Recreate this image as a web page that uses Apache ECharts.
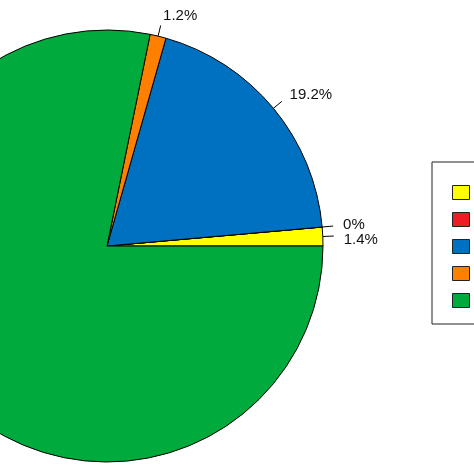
<!DOCTYPE html>
<html>
<head>
<meta charset="utf-8">
<script src="https://cdn.jsdelivr.net/npm/echarts@6/dist/echarts.min.js"></script>
<style>
  html, body { margin: 0; padding: 0; background: #fff; }
  #chart { width: 474px; height: 474px; }
</style>
</head>
<body>
<div id="chart"></div>
<script>
// slice names (legend text falls outside the visible area in the reference)
var categories = ['Group 1', 'Group 2', 'Group 3', 'Group 4', 'Group 5'];
// percentages, counter-clockwise from 3 o'clock
var shares = [1.4, 0, 19.2, 1.2, 78.2];
var colors = ['#FFFF00', '#EE1C25', '#0070C0', '#FF7F00', '#00AA3C'];

var chart = echarts.init(document.getElementById('chart'));

var data = [];
categories.forEach(function (name, i) {
    var item = {
        name: name,
        value: shares[i],
        itemStyle: { color: colors[i] }
    };
    // the big slice's label sits off the left edge in the reference
    if (i == 4) {
        item.label = { show: false };
        item.labelLine = { show: false };
    }
    data.push(item);
});

// push each text a bit further out along its tick, like base R pie()
function radialLabel(params) {
    var pts = params.labelLinePoints;
    if (!pts) return;
    var a = pts[0], b = pts[pts.length - 1];
    var dx = b[0] - a[0], dy = b[1] - a[1];
    var len = Math.sqrt(dx * dx + dy * dy) || 1;
    return {
        x: b[0] + dx / len * 10,
        y: b[1] + dy / len * 10,
        align: dx < 0 ? 'right' : 'left',
        verticalAlign: 'middle',
        moveOverlap: 'shiftY',
        labelLinePoints: [a, b, b]
    };
}

chart.setOption({
    animation: false,
    backgroundColor: '#fff',
    legend: {
        orient: 'vertical',
        left: 432,
        top: 162,
        padding: [23, 30, 16, 20],
        itemWidth: 17,
        itemHeight: 14,
        itemGap: 12,
        borderColor: '#222',
        borderWidth: 1,
        icon: 'rect',
        itemStyle: { borderColor: '#222', borderWidth: 1 },
        textStyle: { fontFamily: 'Liberation Sans', fontSize: 15, color: '#111' },
        data: categories
    },
    series: [{
        type: 'pie',
        center: [107, 246],
        radius: 216,
        startAngle: 0,
        clockwise: false,
        avoidLabelOverlap: false,
        emphasis: { disabled: true },
        itemStyle: { borderColor: '#000', borderWidth: 1 },
        label: {
            show: true,
            position: 'outside',
            formatter: '{c}%',
            fontFamily: 'Liberation Sans',
            fontSize: 15,
            color: '#111'
        },
        labelLine: {
            show: true,
            length: 11,
            length2: 0,
            lineStyle: { color: '#000', width: 1 }
        },
        labelLayout: radialLabel,
        data: data
    }]
});
</script>
</body>
</html>
